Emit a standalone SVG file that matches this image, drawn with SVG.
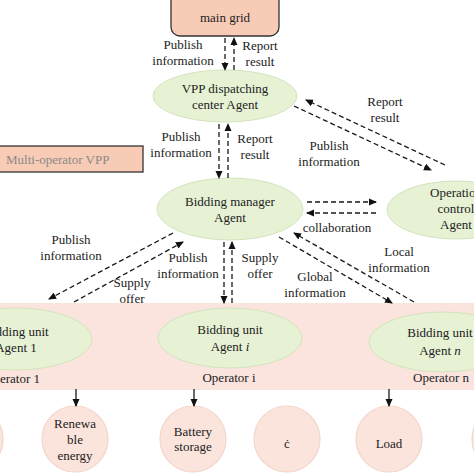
<svg xmlns="http://www.w3.org/2000/svg" width="474" height="474" viewBox="0 0 474 474">
<defs>
<marker id="ah" markerWidth="8" markerHeight="8" refX="7" refY="4" orient="auto" markerUnits="userSpaceOnUse">
<path d="M0,0.5 L8,4 L0,7.5 Z" fill="#111"/>
</marker>
</defs>
<style>
text{font-family:"Liberation Serif","Times New Roman",serif;font-size:13px;fill:#222;text-anchor:middle}
.rect{fill:#f8cbb6;stroke:#333;stroke-width:1.3}
.ell{fill:#e7f2d5;stroke:#d3e3bd;stroke-width:1}
.circ{fill:#fbe4dc;stroke:#f3d6cb;stroke-width:1.2}
.dash{stroke:#1a1a1a;stroke-width:1.3;stroke-dasharray:5,3;fill:none;marker-end:url(#ah)}
.solid{stroke:#1a1a1a;stroke-width:1.3;fill:none;marker-end:url(#ah)}
.gray{fill:#8a8a8a;text-anchor:start}
</style>
<rect width="474" height="474" fill="#fff"/>
<g id="operator-band">
<rect x="0" y="303" width="474" height="87" fill="#fbe4dd"/>
</g>
<g id="main-grid">
<rect class="rect" x="171" y="-10" width="108" height="46" rx="9"/>
<text x="225" y="22">main grid</text>
</g>
<g id="multi-operator-vpp">
<rect class="rect" x="-2" y="146" width="145" height="26"/>
<text class="gray" x="6" y="164">Multi-operator VPP</text>
</g>
<g id="vpp-dispatching">
<ellipse class="ell" cx="225" cy="96" rx="72" ry="26"/>
<text x="225" y="93">VPP dispatching</text>
<text x="225" y="109">center Agent</text>
</g>
<g id="bidding-manager">
<ellipse class="ell" cx="230" cy="209" rx="73" ry="31"/>
<text x="230" y="206">Bidding manager</text>
<text x="230" y="222">Agent</text>
</g>
<g id="operation-control">
<ellipse class="ell" cx="456" cy="210" rx="69" ry="29"/>
<text x="456" y="197">Operation</text>
<text x="456" y="213">control</text>
<text x="456" y="229">Agent</text>
</g>
<g id="bidding-unit-1">
<ellipse class="ell" cx="16" cy="339" rx="76" ry="31"/>
<text x="16" y="336">Bidding unit</text>
<text x="16" y="352">Agent 1</text>
<text x="12" y="383">Operator 1</text>
</g>
<g id="bidding-unit-i">
<ellipse class="ell" cx="230" cy="338" rx="72" ry="30"/>
<text x="230" y="334">Bidding unit</text>
<text x="230" y="351">Agent <tspan font-style="italic">i</tspan></text>
<text x="229" y="382">Operator i</text>
</g>
<g id="bidding-unit-n">
<ellipse class="ell" cx="443" cy="342" rx="74" ry="30"/>
<text x="440" y="337">Bidding unit</text>
<text x="440" y="355">Agent <tspan font-style="italic">n</tspan></text>
<text x="441" y="382">Operator n</text>
</g>
<g id="circle-left">
<circle class="circ" cx="-30" cy="439" r="33"/>
</g>
<g id="renewable">
<circle class="circ" cx="75" cy="439" r="33"/>
<text x="75" y="428">Renewa</text>
<text x="75" y="444">ble</text>
<text x="75" y="460">energy</text>
</g>
<g id="battery">
<circle class="circ" cx="193" cy="439" r="33"/>
<text x="193" y="436">Battery</text>
<text x="193" y="451">storage</text>
</g>
<g id="c-node">
<circle class="circ" cx="287" cy="439" r="33"/>
<text x="287" y="448">ċ</text>
</g>
<g id="load">
<circle class="circ" cx="389" cy="439" r="33"/>
<text x="389" y="448">Load</text>
</g>
<g id="circle-right">
<circle class="circ" cx="505" cy="439" r="33"/>
</g>
<g id="connectors">
<line class="dash" x1="225" y1="38" x2="225" y2="70"/>
<line class="dash" x1="234" y1="70" x2="234" y2="38"/>
<line class="dash" x1="219" y1="124" x2="219" y2="178"/>
<line class="dash" x1="228" y1="178" x2="228" y2="124"/>
<line class="dash" x1="445" y1="165" x2="306" y2="100"/>
<line class="dash" x1="294" y1="106" x2="431" y2="170"/>
<line class="dash" x1="307" y1="202" x2="376" y2="202"/>
<line class="dash" x1="376" y1="213" x2="307" y2="213"/>
<line class="dash" x1="279" y1="237" x2="392" y2="303"/>
<line class="dash" x1="414" y1="302" x2="294" y2="233"/>
<line class="dash" x1="224" y1="242" x2="224" y2="303"/>
<line class="dash" x1="232" y1="303" x2="232" y2="242"/>
<line class="dash" x1="173" y1="233" x2="49" y2="299"/>
<line class="dash" x1="74" y1="302" x2="183" y2="242"/>
<line class="solid" x1="76" y1="389" x2="76" y2="406"/>
<line class="solid" x1="194" y1="389" x2="194" y2="406"/>
<line class="solid" x1="389" y1="389" x2="389" y2="406"/>
</g>
<g id="labels">
<text x="183" y="49">Publish</text>
<text x="183" y="65">information</text>
<text x="260" y="50">Report</text>
<text x="260" y="66">result</text>
<text x="181" y="141">Publish</text>
<text x="181" y="157">information</text>
<text x="255" y="143">Report</text>
<text x="255" y="159">result</text>
<text x="385" y="106">Report</text>
<text x="385" y="122">result</text>
<text x="329" y="150">Publish</text>
<text x="329" y="166">information</text>
<text x="337" y="232">collaboration</text>
<text x="399" y="256">Local</text>
<text x="399" y="272">information</text>
<text x="315" y="281">Global</text>
<text x="315" y="297">information</text>
<text x="260" y="262">Supply</text>
<text x="260" y="278">offer</text>
<text x="188" y="262">Publish</text>
<text x="188" y="278">information</text>
<text x="71" y="244">Publish</text>
<text x="71" y="260">information</text>
<text x="132" y="287">Supply</text>
<text x="132" y="303">offer</text>
</g>
</svg>
